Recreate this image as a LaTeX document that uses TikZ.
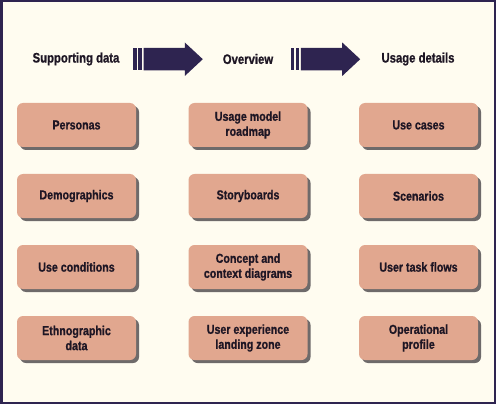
\documentclass[tikz,border=0pt]{standalone}
\usepackage{fontspec}
\setmainfont{Liberation Sans}[FakeStretch=0.82,BoldFeatures={FakeBold=0.9}]
\definecolor{navy}{HTML}{2E2450}
\definecolor{cream}{HTML}{FFFCF0}
\definecolor{salmon}{HTML}{E1A78F}
\definecolor{shade}{HTML}{6E6A6A}
\definecolor{ink}{HTML}{1E1624}
\begin{document}
\begin{tikzpicture}[x=1pt,y=-1pt,
  card/.style={minimum width=119pt,minimum height=44pt,rounded corners=6pt,fill=salmon,
    align=center,font=\bfseries\fontsize{13}{15}\selectfont,text=ink,inner sep=0pt},
  cardshadow/.style={fill=shade,rounded corners=6pt},
  header/.style={font=\bfseries\fontsize{13.8}{15}\selectfont,text=ink,inner sep=0pt},
  bigarrow/.style={fill=navy}]
\useasboundingbox (0,0) rectangle (500,406);
\fill[white] (0,0) rectangle (500,406);
\fill[cream] (1,1) rectangle (495,403);
\draw[navy,line width=2.5pt] (1.25,1.25) rectangle (495,403);
% headers
\node[header] (h1) at (76,59) {Supporting data};
\node[header] (h2) at (248,59) {Overview};
\node[header] (h3) at (418,59) {Usage details};
% arrows
\foreach \x in {133.3,290.7}{
  \fill[bigarrow] (\x,48) rectangle ++(3.4,22.5);
  \fill[bigarrow] (\x+4.9,48) rectangle ++(3.4,22.5);
  \fill[bigarrow] (\x+10.2,48) -- (\x+51.5,48) -- (\x+51.5,42.5) -- (\x+69.5,59.2)
     -- (\x+51.5,76) -- (\x+51.5,70.5) -- (\x+10.2,70.5) -- cycle;
}
% cards
\foreach \c/\cx in {1/76.5,2/248,3/418.5}{
  \foreach \r/\cy in {1/125,2/196,3/267,4/338}{
    \fill[cardshadow] (\cx-59.5+3,\cy-22+3) rectangle (\cx+59.5+3,\cy+22+3);
    \coordinate (p\c\r) at (\cx,\cy);
  }
}
\node[card] (personas) at (p11) {Personas};
\node[card] (demo) at (p12) {Demographics};
\node[card] (usecond) at (p13) {Use conditions};
\node[card] (ethno) at (p14) {Ethnographic\\data};
\node[card] (roadmap) at (p21) {Usage model\\roadmap};
\node[card] (story) at (p22) {Storyboards};
\node[card] (concept) at (p23) {Concept and\\context diagrams};
\node[card] (landing) at (p24) {User experience\\landing zone};
\node[card] (usecases) at (p31) {Use cases};
\node[card] (scen) at (p32) {Scenarios};
\node[card] (flows) at (p33) {User task flows};
\node[card] (oper) at (p34) {Operational\\profile};
\end{tikzpicture}
\end{document}
